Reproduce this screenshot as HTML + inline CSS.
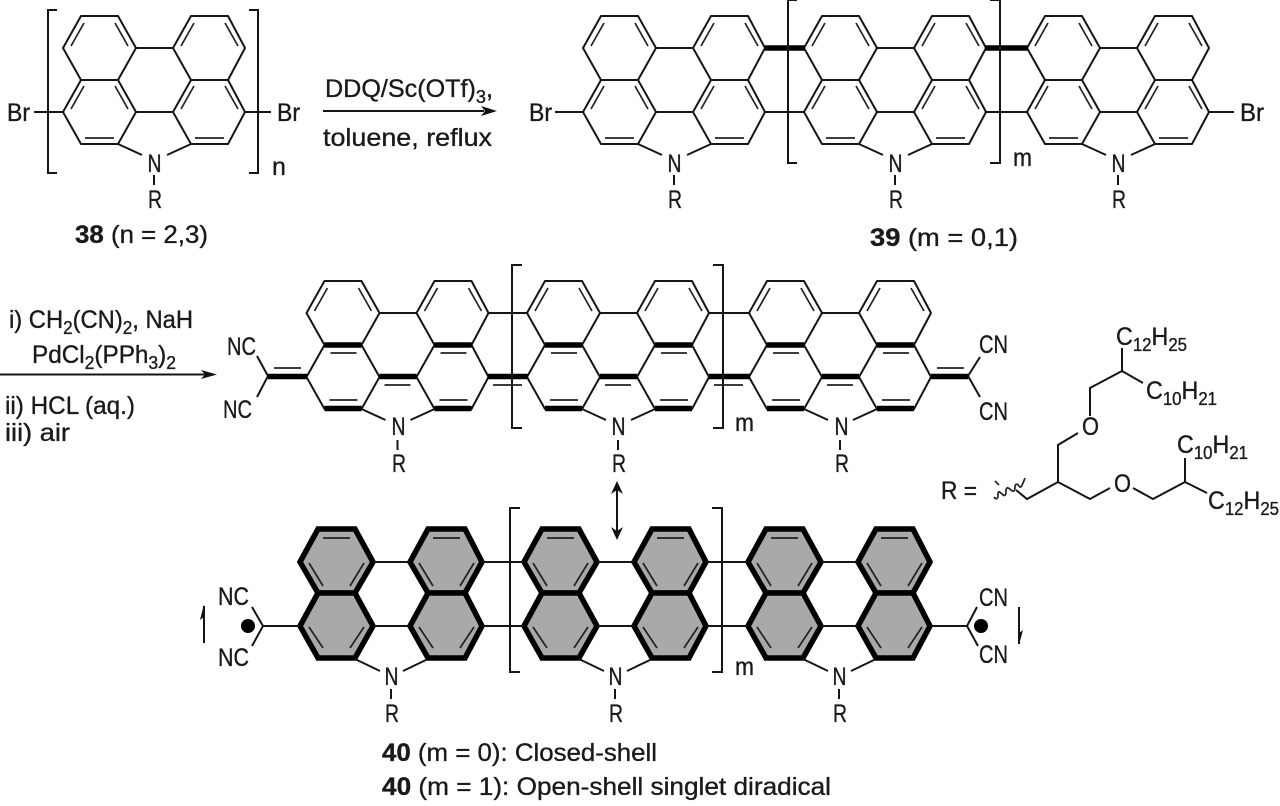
<!DOCTYPE html>
<html><head><meta charset="utf-8"><style>
html,body{margin:0;padding:0;background:#fff;width:1280px;height:806px;overflow:hidden}
svg{display:block}
text{font-family:"Liberation Sans",sans-serif;font-size:25px;fill:#1a1a1a;stroke:#1a1a1a;stroke-width:.35px}
.s{font-size:18px}
.l{fill:none;stroke:#151515;stroke-width:2;stroke-linejoin:round}
.i{fill:none;stroke:#222;stroke-width:1.7}
.t{fill:none;stroke:#000;stroke-width:5.5}
.b{fill:none;stroke:#151515;stroke-width:2}
</style></head><body>
<svg width="1280" height="806" viewBox="0 0 1280 806" xmlns="http://www.w3.org/2000/svg">
<defs>
<g id="sk">
<path class="l" d="M0,32L18,0H55L73,32L55,64H18ZM18,64L0,96L18,128H55L73,96L55,64M110,32L128,0H165L182,32L165,64H128ZM128,64L110,96L128,128H165L182,96L165,64M73,32H110M73,96H110M55,128L79,139M128,128L104,139M91,159V169"/>
<path class="i" d="M8,30L21,7M52,7L65,30M118,30L131,7M162,7L175,30"/>
</g>
<g id="u39">
<use href="#sk"/>
<path class="i" d="M21,70L8,93M52,70L65,93M22,122H51M131,70L118,93M162,70L175,93M132,122H161"/>
</g>
<g id="u40">
<use href="#sk"/>
<path class="t" d="M18,64H55M128,64H165M73,95.500H110M18,127.500H55M128,127.500H165"/>
<path class="i" d="M24,72H50M134,72H160M78,104H104M23,119H51M133,119H161"/>
</g>
<g id="uG">
<path fill="#a9a9a9" stroke="#000" stroke-width="5.500" stroke-linejoin="miter" d="M0,33L18,0H55L73,33L55,64H18Z"/>
<path fill="#a9a9a9" stroke="#000" stroke-width="5.500" stroke-linejoin="miter" d="M18,64L0,97L18,129H55L73,97L55,64Z"/>
<path fill="#a9a9a9" stroke="#000" stroke-width="5.500" stroke-linejoin="miter" d="M110,33L128,0H165L182,33L165,64H128Z"/>
<path fill="#a9a9a9" stroke="#000" stroke-width="5.500" stroke-linejoin="miter" d="M128,64L110,97L128,129H165L182,97L165,64Z"/>
<path class="l" d="M73,33H110M73,97H110M55,130L80,142M128,130L103,142M91,160V170"/>
<path class="i" d="M23,9H50M9,34L23,57M64,34L50,57M9,98L23,119M64,98L50,119M133,9H160M119,34L133,57M174,34L160,57M119,98L133,119M174,98L160,119"/>
</g>
</defs>

<!-- 38 -->
<use href="#sk" x="63" y="16"/>
<path class="i" d="M84,86L71,109M115,86L128,109M85,138H114M194,86L181,109M225,86L238,109M195,138H224"/>
<path class="b" d="M57,10H48V173H57M249,10H258V173H249M34,112H63M245,112H271"/>
<text x="7" y="121" textLength="23" lengthAdjust="spacingAndGlyphs">Br</text><text x="277" y="121" textLength="23" lengthAdjust="spacingAndGlyphs">Br</text>
<text x="272" y="175">n</text>
<text x="147.500" y="172" textLength="14" lengthAdjust="spacingAndGlyphs">N</text><text x="148" y="208" textLength="14" lengthAdjust="spacingAndGlyphs">R</text>
<text x="75" y="243" textLength="133" lengthAdjust="spacingAndGlyphs"><tspan font-weight="bold">38</tspan> (n = 2,3)</text>

<!-- reaction 1 -->
<text x="325" y="97" textLength="168" lengthAdjust="spacingAndGlyphs">DDQ/Sc(OTf)<tspan class="s" dy="6">3</tspan><tspan dy="-6">,</tspan></text>
<text x="323" y="146" textLength="169" lengthAdjust="spacingAndGlyphs">toluene, reflux</text>
<path class="b" d="M323,111H484"/><path d="M481,106L497,111L481,116L485,111Z" fill="#111"/>

<!-- 39 -->
<use href="#u39" x="583" y="16"/><use href="#u39" x="804" y="16"/><use href="#u39" x="1027" y="16"/>
<path class="t" d="M765,48H805M985,48H1028"/>
<path class="b" d="M765,112H805M985,112H1028M797,0H788V163H797M990,0H1000V163H990M555,112H583M1209,112H1234"/>
<text x="529" y="121" textLength="23" lengthAdjust="spacingAndGlyphs">Br</text><text x="1240" y="121" textLength="24" lengthAdjust="spacingAndGlyphs">Br</text>
<text x="1013" y="166" textLength="19" lengthAdjust="spacingAndGlyphs">m</text>
<text x="667.500" y="172" textLength="14" lengthAdjust="spacingAndGlyphs">N</text><text x="668" y="208" textLength="14" lengthAdjust="spacingAndGlyphs">R</text>
<text x="888.500" y="172" textLength="14" lengthAdjust="spacingAndGlyphs">N</text><text x="889" y="208" textLength="14" lengthAdjust="spacingAndGlyphs">R</text>
<text x="1111.500" y="172" textLength="14" lengthAdjust="spacingAndGlyphs">N</text><text x="1112" y="208" textLength="14" lengthAdjust="spacingAndGlyphs">R</text>
<text x="870" y="246" textLength="148" lengthAdjust="spacingAndGlyphs"><tspan font-weight="bold">39</tspan> (m = 0,1)</text>

<!-- reaction 2 -->
<text x="9" y="328" textLength="184" lengthAdjust="spacingAndGlyphs">i) CH<tspan class="s" dy="6">2</tspan><tspan dy="-6">(CN)</tspan><tspan class="s" dy="6">2</tspan><tspan dy="-6">, NaH</tspan></text>
<text x="32" y="363" textLength="144" lengthAdjust="spacingAndGlyphs">PdCl<tspan class="s" dy="6">2</tspan><tspan dy="-6">(PPh</tspan><tspan class="s" dy="6">3</tspan><tspan dy="-6">)</tspan><tspan class="s" dy="6">2</tspan></text>
<path class="b" d="M0,374.500H206"/><path d="M201,370L217,374.500L201,379L205,374.500Z" fill="#111"/>
<text x="5" y="414" textLength="130" lengthAdjust="spacingAndGlyphs">ii) HCL (aq.)</text>
<text x="5" y="441" textLength="65" lengthAdjust="spacingAndGlyphs">iii) air</text>

<!-- 40 top -->
<use href="#u40" x="306.500" y="281"/><use href="#u40" x="527" y="281"/><use href="#u40" x="749" y="281"/>
<path class="b" d="M488,313H528M709,313H750"/>
<path class="t" d="M488,376.500H528M709,376.500H750M268,376.500H307M931,376.500H968"/>
<path class="i" d="M493,385H522M714,385H743"/>
<path class="i" d="M274,368H301M937,368H964"/>
<path class="b" d="M268,376L257,356M268,376L257,397M968,376L980,357M968,376L980,397"/>
<path class="b" d="M522,265H512V428H522M713,265H723V428H713"/>
<text x="227" y="355" textLength="29" lengthAdjust="spacingAndGlyphs">NC</text><text x="223" y="418" textLength="29" lengthAdjust="spacingAndGlyphs">NC</text>
<text x="979" y="353" textLength="29" lengthAdjust="spacingAndGlyphs">CN</text><text x="979" y="420" textLength="29" lengthAdjust="spacingAndGlyphs">CN</text>
<text x="735" y="431" textLength="19" lengthAdjust="spacingAndGlyphs">m</text>
<text x="391.500" y="435" textLength="14" lengthAdjust="spacingAndGlyphs">N</text><text x="392" y="472" textLength="14" lengthAdjust="spacingAndGlyphs">R</text>
<text x="611.500" y="435" textLength="14" lengthAdjust="spacingAndGlyphs">N</text><text x="612" y="472" textLength="14" lengthAdjust="spacingAndGlyphs">R</text>
<text x="834.500" y="435" textLength="14" lengthAdjust="spacingAndGlyphs">N</text><text x="835" y="472" textLength="14" lengthAdjust="spacingAndGlyphs">R</text>

<!-- double arrow -->
<path class="b" d="M617,490V532"/><path d="M617,481L611,494L617,490L623,494ZM617,540L611,527L617,531L623,527Z" fill="#111"/>

<!-- 40 bottom -->
<path class="b" d="M520,508H510V672H520M712,508H722V672H712"/>
<use href="#uG" x="300" y="529"/><use href="#uG" x="524" y="529"/><use href="#uG" x="748" y="529"/>
<path class="l" d="M482,562H524M706,562H748M482,626H524M706,626H748M263,626H300M930,626H967"/>
<path class="b" d="M263,626L252,607M263,626L252,646M967,626L977,607M967,626L978,646"/>
<circle cx="248" cy="626" r="7" fill="#000"/><circle cx="981" cy="626" r="7" fill="#000"/>
<path class="b" d="M204,643V606"/><path d="M204,604L200,620L204,617Z" fill="#111"/>
<path class="b" d="M1019,607V644"/><path d="M1019,645L1023,630L1019,633Z" fill="#111"/>
<text x="218" y="605" textLength="31" lengthAdjust="spacingAndGlyphs">NC</text><text x="218" y="666" textLength="31" lengthAdjust="spacingAndGlyphs">NC</text>
<text x="979" y="606" textLength="29" lengthAdjust="spacingAndGlyphs">CN</text><text x="979" y="663" textLength="29" lengthAdjust="spacingAndGlyphs">CN</text>
<text x="735" y="675" textLength="19" lengthAdjust="spacingAndGlyphs">m</text>
<text x="384.500" y="685" textLength="14" lengthAdjust="spacingAndGlyphs">N</text><text x="385" y="722" textLength="14" lengthAdjust="spacingAndGlyphs">R</text>
<text x="608.500" y="685" textLength="14" lengthAdjust="spacingAndGlyphs">N</text><text x="609" y="722" textLength="14" lengthAdjust="spacingAndGlyphs">R</text>
<text x="832.500" y="685" textLength="14" lengthAdjust="spacingAndGlyphs">N</text><text x="833" y="722" textLength="14" lengthAdjust="spacingAndGlyphs">R</text>

<!-- R group -->
<text x="941" y="499" textLength="36" lengthAdjust="spacingAndGlyphs">R =</text>
<path class="i" d="M994,497c2,3 4,2 4,-2s1,-4 4,-1 4,1 4,-3 2,-4 5,-1 4,0 4,-3 2,-4 4,-1 3,0 6,-8M995,481l4,4"/>
<path class="b" d="M1016,490L1027,499L1058,482L1090,499L1110,488M1133,488L1153,499L1185,482L1207,493M1185,482V458M1058,482V445L1078,433M1090,416V388L1122,371L1143,383M1122,371V348"/>
<text x="1082" y="435" textLength="17" lengthAdjust="spacingAndGlyphs">O</text><text x="1114" y="492" textLength="17" lengthAdjust="spacingAndGlyphs">O</text>
<text x="1116" y="345" textLength="71" lengthAdjust="spacingAndGlyphs">C<tspan class="s" dy="6">12</tspan><tspan dy="-6">H</tspan><tspan class="s" dy="6">25</tspan></text>
<text x="1146" y="399" textLength="71" lengthAdjust="spacingAndGlyphs">C<tspan class="s" dy="6">10</tspan><tspan dy="-6">H</tspan><tspan class="s" dy="6">21</tspan></text>
<text x="1177" y="453" textLength="71" lengthAdjust="spacingAndGlyphs">C<tspan class="s" dy="6">10</tspan><tspan dy="-6">H</tspan><tspan class="s" dy="6">21</tspan></text>
<text x="1208" y="509" textLength="71" lengthAdjust="spacingAndGlyphs">C<tspan class="s" dy="6">12</tspan><tspan dy="-6">H</tspan><tspan class="s" dy="6">25</tspan></text>

<!-- caption -->
<text x="382" y="761" textLength="275" lengthAdjust="spacingAndGlyphs"><tspan font-weight="bold">40</tspan> (m = 0): Closed-shell</text>
<text x="382" y="795" textLength="449" lengthAdjust="spacingAndGlyphs"><tspan font-weight="bold">40</tspan> (m = 1): Open-shell singlet diradical</text>
</svg>
</body></html>
